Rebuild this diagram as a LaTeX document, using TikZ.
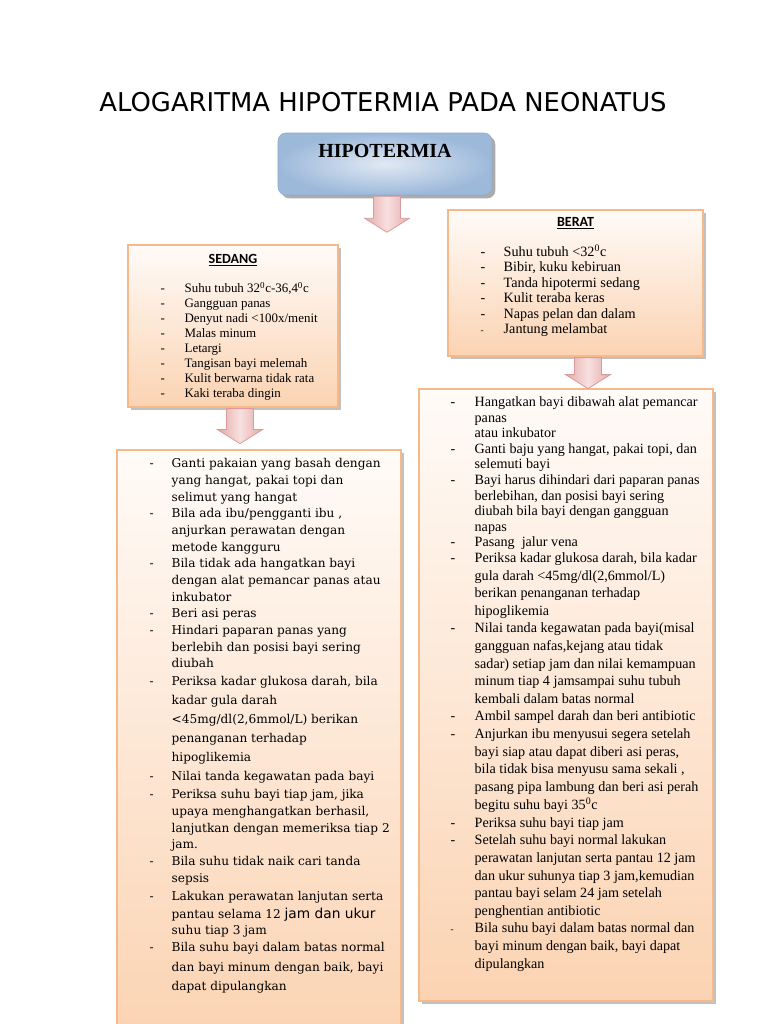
\documentclass[tikz,border=0pt]{standalone}
\usepackage{fontspec}
\setmainfont{Liberation Serif}
\newfontfamily\titlefont{DejaVu Sans}
\newfontfamily\headfont{Carlito}
\newfontfamily\leftfont{DejaVu Serif}
\newfontfamily\leftsans{DejaVu Sans}
\usepackage{xcolor}
\usepackage{tikz}
\usetikzlibrary{shapes.geometric, arrows.meta, positioning, calc, shadows}
\definecolor{boxtop}{HTML}{FFFBF8}
\definecolor{boxbottom}{HTML}{FBD3B2}
\definecolor{boxline}{HTML}{F6B98A}
\definecolor{hipoedge}{HTML}{9DB9DA}
\definecolor{hipomid}{HTML}{E1E9F4}
\definecolor{hipoline}{HTML}{8DA8CA}
\definecolor{arrowdark}{HTML}{E4A9A8}
\definecolor{arrowlight}{HTML}{F8E0E0}
\definecolor{arrowline}{HTML}{DA9C9B}
\tikzstyle{titletxt} = [anchor=base,
inner sep=0pt,
font=\titlefont\fontsize{19.4}{22}\selectfont]
\tikzstyle{hipobox} = [rectangle,
rounded corners=6pt,
minimum width=160.5pt,
inner sep=0pt,
text height=18.5pt,
text depth=28pt,
draw=hipoline,
inner color=hipomid,
outer color=hipoedge,
drop shadow={shadow xshift=2.5pt, shadow yshift=-2.5pt, fill=black!55, opacity=0.6},
font=\fontsize{15}{18}\selectfont\bfseries]
\tikzstyle{careinfo} = [rectangle,
inner sep=0pt,
line width=0.9pt,
draw=boxline,
top color=boxtop,
bottom color=boxbottom,
drop shadow={shadow xshift=2pt, shadow yshift=-2pt, fill=black!45, opacity=0.55}]
\tikzstyle{headtxt} = [anchor=base,
inner sep=0pt,
font=\headfont\bfseries\fontsize{10.5}{12}\selectfont]
\tikzstyle{listtxt} = [anchor=base west,
inner sep=0pt,
align=left]
\tikzstyle{fatarrow} = [draw=arrowline,
line width=0.6pt,
left color=arrowdark,
right color=arrowdark,
middle color=arrowlight,
to path={($(\tikztostart)+(-13.5,0)$) -- ($(\tikztotarget)+(-13.5,-14)$) -- ($(\tikztotarget)+(-22.5,-14)$) -- (\tikztotarget) -- ($(\tikztotarget)+(22.5,-14)$) -- ($(\tikztotarget)+(13.5,-14)$) -- ($(\tikztostart)+(13.5,0)$) -- cycle}]

\begin{document}
\begin{tikzpicture}[x=0.75pt, y=-0.75pt]
    \useasboundingbox (0,0) rectangle (768,1024);
    \clip (0,0) rectangle (768,1024);

    \node (title) [titletxt] at (383,111) {ALOGARITMA HIPOTERMIA PADA NEONATUS};
    \node (hipo) [hipobox] at (385,164) {HIPOTERMIA};

    \node (sedang) [careinfo, minimum width=157.5pt, minimum height=121.5pt] at (233,326) {};
    \node (berat) [careinfo, minimum width=191.25pt, minimum height=109.5pt] at (575.5,283) {};
    \node (leftcare) [careinfo, minimum width=213pt, minimum height=442.5pt] at (259,745) {};
    \node (rightcare) [careinfo, minimum width=220.5pt, minimum height=459pt] at (566,695) {};

    \node (sedanghead) [headtxt] at ($(sedang.north)+(0,19)$) {\underline{SEDANG}};
    \node (berathead) [headtxt] at ($(berat.north)+(0,17)$) {\underline{BERAT}};

    \node (sedanglist) [listtxt, font=\fontsize{9.7}{11.2}\selectfont] at ($(sedang.north west)+(33,48.5)$) {%
    \begin{tabular}[t]{@{}p{18pt}@{}l@{}}
    - & Suhu tubuh 32\textsuperscript{0}c-36,4\textsuperscript{0}c \\
    - & Gangguan panas \\
    - & Denyut nadi <100x/menit \\
    - & Malas minum \\
    - & Letargi \\
    - & Tangisan bayi melemah \\
    - & Kulit berwarna tidak rata \\
    - & Kaki teraba dingin
    \end{tabular}};

    \node (beratlist) [listtxt, font=\fontsize{10.65}{11.55}\selectfont] at ($(berat.north west)+(33,47)$) {%
    \begin{tabular}[t]{@{}p{17.25pt}@{}l@{}}
    - & Suhu tubuh <32\textsuperscript{0}c \\
    - & Bibir, kuku kebiruan \\
    - & Tanda hipotermi sedang \\
    - & Kulit teraba keras \\
    - & Napas pelan dan dalam \\
    {\scriptsize -} & Jantung melambat
    \end{tabular}};

    \node (leftlist) [listtxt, font=\leftfont\fontsize{9.1}{12.5}\selectfont] at ($(leftcare.north west)+(33,18.5)$) {%
    \begin{tabular}[t]{@{}p{16.5pt}@{}l@{}}
    - & Ganti pakaian yang basah dengan \\
      & yang hangat, pakai topi dan \\
      & selimut yang hangat \\
    - & Bila ada ibu/pengganti ibu , \\
      & anjurkan perawatan dengan \\
      & metode kangguru \\
    - & Bila tidak ada hangatkan bayi \\
      & dengan alat pemancar panas atau \\
      & inkubator \\
    - & Beri asi peras \\
    - & Hindari paparan panas yang \\
      & berlebih dan posisi bayi sering \\
      & diubah \\[1pt]
    - & Periksa kadar glukosa darah, bila \\[1.75pt]
      & kadar gula darah \\[1.75pt]
      & <45mg/dl(2,6mmol/L) berikan \\[1.75pt]
      & penanganan terhadap \\[1.75pt]
      & hipoglikemia \\[1.75pt]
    - & Nilai tanda kegawatan pada bayi \\[1pt]
    - & Periksa suhu bayi tiap jam, jika \\
      & upaya menghangatkan berhasil, \\
      & lanjutkan dengan memeriksa tiap 2 \\
      & jam. \\
    - & Bila suhu tidak naik cari tanda \\
      & sepsis \\[1pt]
    - & Lakukan perawatan lanjutan serta \\[1pt]
      & pantau selama 12 {\leftsans\fontsize{10.3}{12.5}\selectfont jam dan ukur} \\
      & suhu tiap 3 jam \\
    - & Bila suhu bayi dalam batas normal \\[2.5pt]
      & dan bayi minum dengan baik, bayi \\[1.75pt]
      & dapat dipulangkan
    \end{tabular}};

    \node (rightlist) [listtxt, font=\fontsize{10.6}{11.7}\selectfont] at ($(rightcare.north west)+(32,18)$) {%
    \begin{tabular}[t]{@{}p{18pt}@{}l@{}}
    - & Hangatkan bayi dibawah alat pemancar \\
      & panas \\
      & atau inkubator \\
    - & Ganti baju yang hangat, pakai topi, dan \\
      & selemuti bayi \\
    - & Bayi harus dihindari dari paparan panas \\
      & berlebihan, dan posisi bayi sering \\
      & diubah bila bayi dengan gangguan \\
      & napas \\
    - & Pasang\ \ jalur vena \\
    - & Periksa kadar glukosa darah, bila kadar \\[1.5pt]
      & gula darah <45mg/dl(2,6mmol/L) \\[1.5pt]
      & berikan penanganan terhadap \\[1.5pt]
      & hipoglikemia \\[1.5pt]
    - & Nilai tanda kegawatan pada bayi(misal \\[1.5pt]
      & gangguan nafas,kejang atau tidak \\[1.5pt]
      & sadar) setiap jam dan nilai kemampuan \\[1.5pt]
      & minum tiap 4 jamsampai suhu tubuh \\[1.5pt]
      & kembali dalam batas normal \\[1.5pt]
    - & Ambil sampel darah dan beri antibiotic \\[1.5pt]
    - & Anjurkan ibu menyusui segera setelah \\[1.5pt]
      & bayi siap atau dapat diberi asi peras, \\[1.5pt]
      & bila tidak bisa menyusu sama sekali , \\[1.5pt]
      & pasang pipa lambung dan beri asi perah \\[1.5pt]
      & begitu suhu bayi 35\textsuperscript{0}c \\[1.5pt]
    - & Periksa suhu bayi tiap jam \\[1.5pt]
    - & Setelah suhu bayi normal lakukan \\[1.5pt]
      & perawatan lanjutan serta pantau 12 jam \\[1.5pt]
      & dan ukur suhunya tiap 3 jam,kemudian \\[1.5pt]
      & pantau bayi selam 24 jam setelah \\[1.5pt]
      & penghentian antibiotic \\[1.5pt]
    {\scriptsize -} & Bila suhu bayi dalam batas normal dan \\[1.5pt]
      & bayi minum dengan baik, bayi dapat \\[1.5pt]
      & dipulangkan
    \end{tabular}};

    % block arrows
    \coordinate (tiphipo) at ($(hipo.south)+(2,37)$);
    \coordinate (tipsedang) at ($(sedang.south)+(7,36)$);
    \coordinate (tipberat) at ($(berat.south)+(12.5,32)$);
    \draw [fatarrow] ($(hipo.south)+(2,1)$) to (tiphipo);
    \draw [fatarrow] ($(sedang.south)+(7,1)$) to (tipsedang);
    \draw [fatarrow] ($(berat.south)+(12.5,1)$) to (tipberat);
\end{tikzpicture}
\end{document}
